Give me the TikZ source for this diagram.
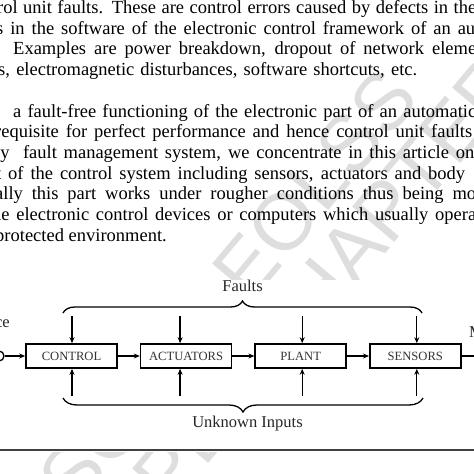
\documentclass[tikz,border=0pt]{standalone}
\usepackage{fontspec}
\setmainfont{Liberation Serif}
\newfontfamily\markfont{Liberation Sans}
\usetikzlibrary{positioning,arrows.meta,decorations.pathreplacing}

\begin{document}
\begin{tikzpicture}[
    x=1pt, y=-1pt,
    >={Stealth[length=6pt,width=5pt]},
    node distance=22pt,
    bodytext/.style={anchor=base west, inner sep=0pt, font=\fontsize{18.5}{20}\selectfont},
    watermark/.style={inner sep=0pt, rotate=50, text=black!13, font=\markfont\fontsize{80}{82}\selectfont},
    block/.style={draw, line width=1.6pt, minimum width=91pt, minimum height=24pt, inner sep=0pt, text=black!80, font=\fontsize{12.6}{14}\selectfont},
    figtext/.style={inner sep=0pt, text=black!85, font=\fontsize{16.5}{19}\selectfont},
    flow/.style={->, line width=1.3pt},
    fbrace/.style={line width=1.3pt, decorate, decoration={brace, amplitude=#1}}
]
    \useasboundingbox (0,0) rectangle (474,474);
    \clip (0,0) rectangle (474,474);

    \node[watermark, anchor=east] (wm1) at (401,82) {UNESCO -- EOLSS};
    \node[watermark, anchor=east] (wm2) at (541,25) {SAMPLE CHAPTERS};
    \fill[white] (0,280) rectangle (474,452);

    \node[bodytext] (l1) at (-3,13.5) {\makebox[479pt][s]{rol unit faults. These are control errors caused by defects in the}};
    \node[bodytext] (l2) at (-4,34.2) {\makebox[479pt][s]{s in the software of the electronic control framework of an au}};
    \node[bodytext] (l3) at (13,54.9) {\makebox[463pt][s]{Examples are power breakdown, dropout of network eleme}};
    \node[bodytext] (l4) at (-2,75.6) {\makebox[419pt][s]{s, electromagnetic disturbances, software shortcuts, etc.}};
    \node[bodytext] (l5) at (13,117) {\makebox[463pt][s]{a fault-free functioning of the electronic part of an automatic}};
    \node[bodytext] (l6) at (-5,137.7) {\makebox[477pt][s]{requisite for perfect performance and hence control unit faults}};
    \node[bodytext] (l7) at (-9,158.4) {\makebox[483pt][s]{by\ \ fault management system, we concentrate in this article on}};
    \node[bodytext] (l8) at (-4,179.1) {\makebox[469pt][s]{t of the control system including sensors, actuators and body}};
    \node[bodytext] (l9) at (-5,199.8) {\makebox[481pt][s]{ally this part works under rougher conditions thus being mo}};
    \node[bodytext] (l10) at (-8,220.5) {\makebox[484pt][s]{he electronic control devices or computers which usually opera}};
    \node[bodytext] (l11) at (-5,241.2) {protected environment.};

    \node[block] (control) at (71.5,356) {CONTROL};
    \node[block, right=of control] (actuators) {ACTUATORS};
    \node[block, right=of actuators] (plant) {PLANT};
    \node[block, right=of plant] (sensors) {SENSORS};

    \node[circle, draw, line width=1.3pt, minimum size=10pt, inner sep=0pt] (ref) at (-1,356) {};
    \coordinate (out) at (480,356);
    \node[figtext, anchor=base east] (reflabel) at (10,327) {Reference};
    \node[figtext, anchor=base west] (outlabel) at (469,337) {Measured};

    \draw[flow] (ref) -- (control);
    \draw[flow] (control) -- (actuators);
    \draw[flow] (actuators) -- (plant);
    \draw[flow] (plant) -- (sensors);
    \draw[line width=1.3pt] (sensors) -- (out);

    \foreach \b/\dx in {control/0.5,actuators/-6,plant/1.5,sensors/1.5} {
        \coordinate (\b-f) at ([xshift=\dx pt, yshift=27pt]\b.north);
        \coordinate (\b-u) at ([xshift=\dx pt, yshift=-27pt]\b.south);
        \draw[flow] (\b-f) -- ([xshift=\dx pt]\b.north);
        \draw[flow] (\b-u) -- ([xshift=\dx pt]\b.south);
    }

    \coordinate (fl) at (63,313);
    \coordinate (fr) at (422,313);
    \coordinate (ul) at (63,398);
    \coordinate (ur) at (423,398);
    \draw[fbrace=12pt] (fl) -- (fr);
    \draw[fbrace=14pt] (ur) -- (ul);
    \node[figtext] (faults) at (242.5,286) {Faults};
    \node[figtext, anchor=base] (unknown) at (247.5,427) {Unknown Inputs};

    \coordinate (rl) at (0,450);
    \coordinate (rr) at (474,450);
    \draw[line width=1.6pt, black!75] (rl) -- (rr);
\end{tikzpicture}
\end{document}
